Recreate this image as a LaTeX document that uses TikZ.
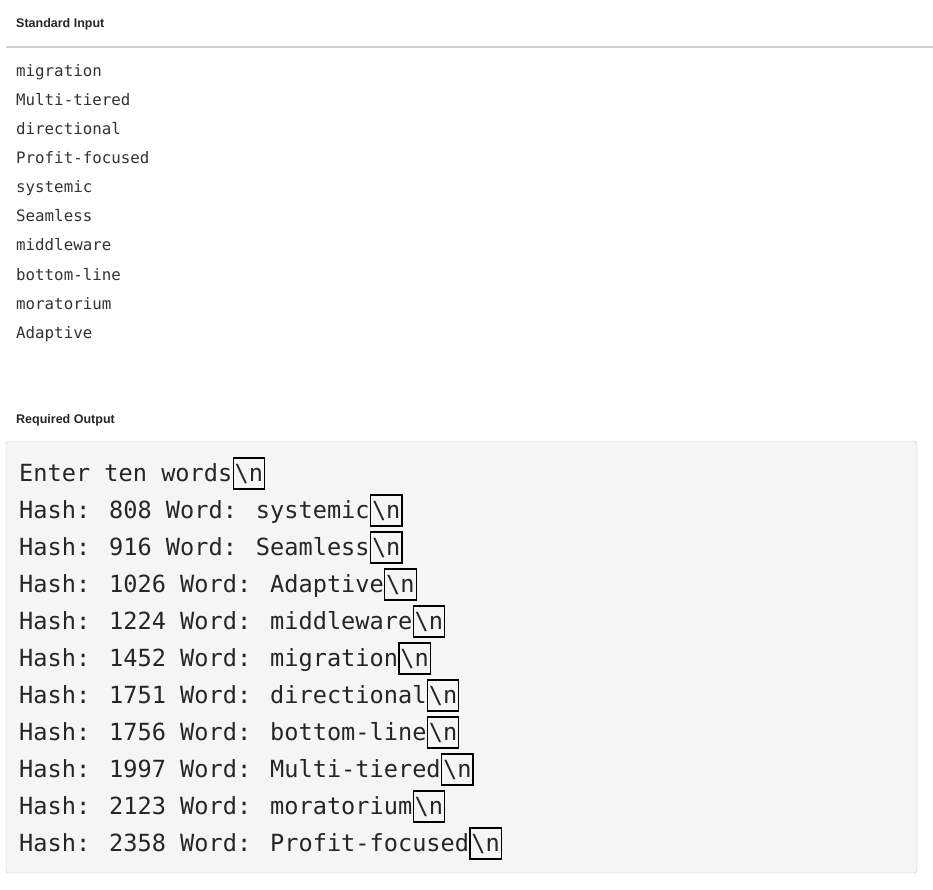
\documentclass[tikz,border=0pt]{standalone}
\usepackage{fontspec}
\setmainfont{Liberation Sans}
\newfontfamily\monof{DejaVu Sans Mono}
\begin{document}
\begin{tikzpicture}[x=1pt,y=-1pt,
  head/.style={anchor=base west,inner sep=0,font=\fontsize{12.5}{14}\selectfont\bfseries,text=black!85},
  inp/.style={anchor=base west,inner sep=0,font=\monof\fontsize{15.8}{18}\selectfont,text=black!80},
  outl/.style={anchor=base west,inner sep=0,font=\monof\fontsize{23.6}{26}\selectfont,text=black!85},
  nl/.style={anchor=base west,draw=black,line width=1.3pt,inner xsep=1.5pt,inner ysep=0pt,minimum height=31pt,font=\monof\fontsize{23.6}{26}\selectfont,text=black!85,text depth=6pt,text height=21pt}]
\useasboundingbox (0,0) rectangle (933,890);
\node[head] (h1) at (16,28) {Standard Input};
\draw[black!18,line width=1.5pt] (6,47) -- (933,47);
\foreach \w [count=\i] in {migration,Multi-tiered,directional,Profit-focused,systemic,Seamless,middleware,bottom-line,moratorium,Adaptive}
  \node[inp] (in\i) at (16,{77+29*(\i-1)}) {\w};
\node[head] (h2) at (16,423) {Required Output};
\draw[black!20,fill=black!4,rounded corners=3pt] (6,441) rectangle (917,873);
\foreach \t [count=\i] in {Enter ten words,Hash: 808 Word: systemic,Hash: 916 Word: Seamless,Hash: 1026 Word: Adaptive,Hash: 1224 Word: middleware,Hash: 1452 Word: migration,Hash: 1751 Word: directional,Hash: 1756 Word: bottom-line,Hash: 1997 Word: Multi-tiered,Hash: 2123 Word: moratorium,Hash: 2358 Word: Profit-focused}{
  \node[outl] (o\i) at (19,{481+37*(\i-1)}) {\t};
  \node[nl] (n\i) at (o\i.base east) {\textbackslash n};
}
\end{tikzpicture}
\end{document}
